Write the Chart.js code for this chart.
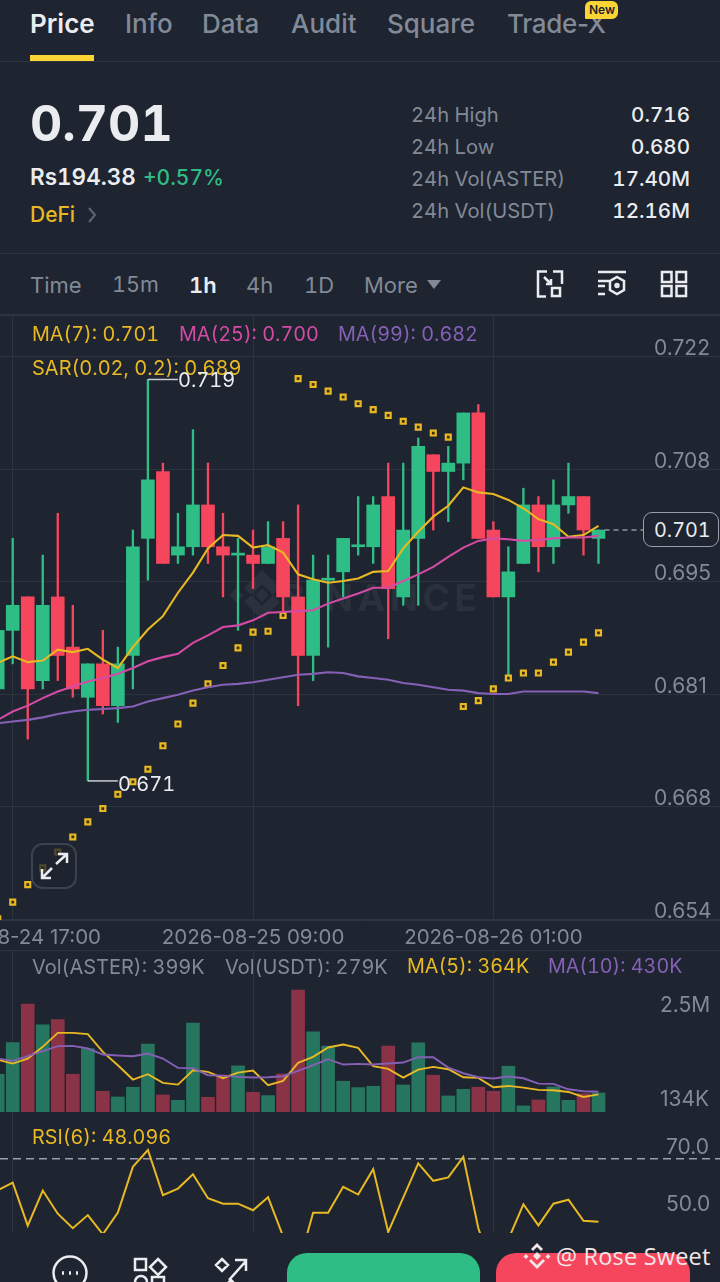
<!DOCTYPE html>
<html><head><meta charset="utf-8">
<script src="https://cdn.jsdelivr.net/npm/chart.js@4"></script>
<style>
html,body{margin:0;padding:0;background:#1e2430;}
#app{position:relative;width:720px;height:1282px;overflow:hidden;background:#1e2430;font-family:Inter,Roboto,sans-serif;font-variant-numeric:tabular-nums;}
.t{position:absolute;white-space:nowrap;line-height:1;transform:translateY(-50%);}
.r{transform:translate(-100%,-50%);}
.sep{position:absolute;left:0;width:720px;background:#2d333f;}
canvas{position:absolute;left:0;display:block;font-variant-numeric:normal;}
.g{color:#828a97}.w{color:#eaecef}.y{color:#e8b923}.p{color:#d44ba6}.v{color:#8560b5}
svg{position:absolute;overflow:visible;fill:none}
</style></head><body><div id="app">
<div class="t" style="left:281px;top:597px;font-size:37px;font-weight:700;letter-spacing:4.5px;color:#2a303c">BINANCE</div>
<svg style="left:0;top:0" width="720" height="720"><g fill="#2a303c"><path d="M262 570l18 18-7 7-11-11-11 11-7-7z"/><path d="M262 620l18-18-7-7-11 11-11-11-7 7z"/><path d="M262 588l7 7-7 7-7-7zM236 588l7 7-7 7-7-7zM288 588l7 7-7 7-7-7z"/></g></svg>

<canvas id="priceChart" width="720" height="635" style="top:316px"></canvas>
<canvas id="volChart" width="720" height="161" style="top:951px"></canvas>
<canvas id="rsiChart" width="720" height="121" style="top:1112px"></canvas>

<div class="t w" style="left:30px;top:24px;font-size:26px;font-weight:600">Price</div>
<div class="t g" style="left:125px;top:24px;font-size:26px;font-weight:500">Info</div>
<div class="t g" style="left:202px;top:24px;font-size:26px;font-weight:500">Data</div>
<div class="t g" style="left:291px;top:24px;font-size:26px;font-weight:500">Audit</div>
<div class="t g" style="left:387px;top:24px;font-size:26px;font-weight:500">Square</div>
<div class="t g" style="left:507px;top:24px;font-size:26px;font-weight:500;font-variant-numeric:normal;letter-spacing:-.3px">Trade-X</div>
<div style="position:absolute;left:585px;top:1px;width:33px;height:18px;border-radius:6px 6px 6px 1px;background:#fcd535"></div>
<div class="t" style="left:589px;top:10px;font-size:12px;font-weight:600;color:#1e2430">New</div>
<div style="position:absolute;left:30px;top:55px;width:64px;height:6px;background:#fcd535"></div>
<div class="sep" style="top:61px;height:1px"></div>

<div class="t w" style="left:30px;top:123px;font-size:50px;font-weight:700">0.701</div>
<div class="t w" style="left:30px;top:177px;font-size:22.5px;font-weight:600">Rs194.38</div>
<div class="t" style="left:143px;top:177px;font-size:21px;font-weight:500;color:#2ebd85">+0.57%</div>
<div class="t y" style="left:30px;top:214px;font-size:21px;font-weight:500">DeFi</div>
<svg style="left:87px;top:207px" width="10" height="16"><path d="M2 1l6 7-6 7" stroke="#5e6673" stroke-width="2"/></svg>
<div class="t g" style="left:411px;top:115px;font-size:20.2px">24h High</div>
<div class="t g" style="left:411px;top:147px;font-size:20.2px">24h Low</div>
<div class="t g" style="left:411px;top:179px;font-size:20.2px">24h Vol(ASTER)</div>
<div class="t g" style="left:411px;top:211px;font-size:20.2px">24h Vol(USDT)</div>
<div class="t r w" style="left:690px;top:115px;font-size:20.6px;font-weight:500">0.716</div>
<div class="t r w" style="left:690px;top:147px;font-size:20.6px;font-weight:500">0.680</div>
<div class="t r w" style="left:690px;top:179px;font-size:20.6px;font-weight:500">17.40M</div>
<div class="t r w" style="left:690px;top:211px;font-size:20.6px;font-weight:500">12.16M</div>
<div class="sep" style="top:253px;height:1px"></div>

<div class="t g" style="left:30px;top:285px;font-size:22px">Time</div>
<div class="t g" style="left:112px;top:285px;font-size:21.5px">15m</div>
<div class="t w" style="left:189px;top:285px;font-size:22px;font-weight:600">1h</div>
<div class="t g" style="left:246px;top:285px;font-size:22px">4h</div>
<div class="t g" style="left:304px;top:285px;font-size:22px">1D</div>
<div class="t g" style="left:364px;top:285px;font-size:22px">More</div>
<svg style="left:427px;top:280px" width="14" height="10"><path d="M0 0h14l-7 9z" fill="#828a97"/></svg>
<svg style="left:536px;top:270px" width="28" height="28" stroke="#eaecef" stroke-width="2.5"><path d="M11 1.5H2v25h8M17 1.500h9V14"/><path d="M8 7l7 7M15 9v5h-5"/><rect x="16" y="18" width="8" height="8"/></svg>
<svg style="left:597px;top:270px" width="30" height="28" stroke="#eaecef" stroke-width="2.5"><path d="M1 2h28M1 11h11M1 16h7M1 24h7"/><path d="M20 7l7 4v9l-7 4-7-4v-9z"/><circle cx="20" cy="15.5" r="1.5"/></svg>
<svg style="left:661px;top:271px" width="26" height="26" stroke="#eaecef" stroke-width="2.5"><rect x="1" y="1" width="9.5" height="10"/><rect x="15.5" y="1" width="9.5" height="10"/><rect x="1" y="15" width="9.5" height="10"/><rect x="15.5" y="15" width="9.5" height="10"/></svg>
<div class="sep" style="top:314px;height:2px"></div>

<div class="t y" style="left:32px;top:335px;font-size:19.8px">MA(7): 0.701</div>
<div class="t p" style="left:179px;top:335px;font-size:19.8px">MA(25): 0.700</div>
<div class="t v" style="left:338px;top:335px;font-size:19.8px">MA(99): 0.682</div>
<div class="t y" style="left:32px;top:368px;font-size:20px">SAR(0.02, 0.2): 0.689</div>
<div class="t w" style="left:178px;top:379.500px;font-size:20px">0.719</div>
<div class="t w" style="left:118px;top:784px;font-size:20px">0.671</div>

<div style="position:absolute;left:643px;top:511.500px;width:73.500px;height:33.500px;border:1.5px solid #9aa0aa;border-radius:9px;background:#1e2430"></div>
<div class="t w" style="left:654px;top:531px;font-size:19.8px">0.701</div>

<div style="position:absolute;left:31px;top:843px;width:42px;height:42px;border:2px solid #3c424e;border-radius:12px;background:rgba(30,36,48,.75)"></div>
<svg style="left:40px;top:852px" width="28" height="28" stroke="#eaecef" stroke-width="2.5"><path d="M16 12l11-10M18 2h9v9M12 16L2 26M2 17v9h9"/></svg>

<div class="sep" style="top:950px;height:1px"></div>
<div class="t g" style="left:32px;top:967px;font-size:20px">Vol(ASTER): 399K</div>
<div class="t g" style="left:225px;top:967px;font-size:20px">Vol(USDT): 279K</div>
<div class="t y" style="left:407px;top:967px;font-size:19.8px">MA(5): 364K</div>
<div class="t v" style="left:548px;top:967px;font-size:19.7px">MA(10): 430K</div>
<div class="t y" style="left:32px;top:1138px;font-size:19.8px">RSI(6): 48.096</div>

<div style="position:absolute;left:0;top:1233px;width:720px;height:49px;background:#1e2430"></div>
<svg style="left:50px;top:1255px" width="40" height="30" stroke="#eaecef" stroke-width="2.5"><circle cx="20" cy="18" r="16.5"/><path d="M12 18h2M19 18h2M26 18h2" stroke-width="3.5"/></svg>
<svg style="left:134px;top:1258px" width="34" height="28" stroke="#eaecef" stroke-width="2.5"><rect x="1" y="1" width="11" height="11"/><path d="M24 1l8 8-8 8-8-8z"/><circle cx="7" cy="24" r="6"/><rect x="18" y="19" width="12" height="12"/></svg>
<svg style="left:215px;top:1258px" width="34" height="28" stroke="#eaecef" stroke-width="2.5"><path d="M7 1l6 6-6 6-6-6zM14 22L31 3M20 2h11v11M20 26l-4-4-5 5"/></svg>
<div style="position:absolute;left:287px;top:1253px;width:193px;height:60px;border-radius:20px 20px 0 0;background:#2ebd85"></div>
<div style="position:absolute;left:496px;top:1253px;width:194px;height:60px;border-radius:20px 20px 0 0;background:#f6465d"></div>
<div class="t w" style="left:361px;top:1296px;font-size:28px;font-weight:600">Buy</div>
<div class="t w" style="left:570px;top:1296px;font-size:28px;font-weight:600">Sell</div>
<svg style="left:523px;top:1243px" width="30" height="30"><g fill="#f3e6e8"><path d="M14 0l6 6-2 2-4-4-4 4-2-2z"/><path d="M14 26l8-8-2-2-6 6-6-6-2 2z"/><path d="M14 9l4 4-4 4-4-4zM3 11l2.500 2.500L3 16l-2.500-2.500zM25 11l2.500 2.500L25 16l-2.500-2.500z"/></g></svg>
<div class="t" style="left:556px;top:1257px;font-size:23.5px;font-family:'Open Sans',sans-serif;color:#f3e6e8;letter-spacing:.2px">@ Rose Sweet</div>
</div>
<script>
const FONT='Inter';
const BG='#1e2430', GRID='#2d333f', TICK='#828a97';
const GREEN='#2ebd85', RED='#f6465d', VGREEN='#26755e', VRED='#8a3346';
const YELLOW='#e8b923', PINK='#d44ba6', PURPLE='#8560b5';

const xTickIndex=[1,17,33];
const xTickLabels=['2026-08-24 17:00','2026-08-25 09:00','2026-08-26 01:00'];

const open=[.682,.689,.693,.683,.693,.687,.681,.685,.680,.686,.700,.708,.698,.699,.704,.699,.698,.698,.697,.700,.693,.686,.695,.696,.699,.699,.705,.693,.700,.710,.708,.709,.715,.701,.693,.697,.704,.699,.704,.705,.700];
const close=[.689,.692,.682,.692,.686,.682,.685,.680,.685,.699,.707,.697,.699,.704,.699,.698,.698,.697,.699,.693,.686,.695,.695,.700,.699,.704,.694,.701,.711,.708,.709,.715,.700,.693,.696,.704,.699,.704,.705,.701,.701];
const high=[.692,.700,.693,.698,.703,.692,.685,.689,.687,.701,.719,.709,.703,.713,.709,.703,.700,.701,.702,.702,.704,.698,.698,.700,.705,.705,.709,.709,.712,.710,.711,.715,.716,.702,.699,.706,.705,.707,.709,.705,.701];
const low=[.680,.685,.676,.682,.683,.681,.671,.679,.678,.682,.695,.697,.697,.698,.697,.693,.689,.694,.697,.691,.680,.683,.687,.693,.698,.697,.688,.692,.692,.701,.702,.707,.700,.693,.683,.697,.696,.697,.703,.698,.697];
const ma7=[.6851,.6859,.6852,.6854,.6867,.6864,.6868,.6855,.6845,.6870,.6891,.6907,.6935,.6959,.6988,.7004,.7003,.6989,.6992,.6983,.6957,.6951,.6947,.6949,.6952,.6960,.6961,.6988,.7008,.7026,.7039,.7061,.7055,.7053,.7046,.7036,.7023,.7017,.7002,.7004,.7015];
const ma25=[.6783,.6793,.6800,.6809,.6817,.6823,.6829,.6833,.6838,.6845,.6853,.6858,.6862,.6875,.6884,.6894,.6896,.6902,.6911,.6912,.6913,.6914,.6922,.6928,.6934,.6941,.6941,.6949,.6957,.6966,.6978,.6989,.6997,.7000,.6999,.6997,.6998,.7000,.7001,.7001,.7003];
const ma99=[.6779,.6781,.6783,.6786,.6790,.6793,.6795,.6796,.6797,.6799,.6805,.6809,.6813,.6818,.6822,.6825,.6826,.6828,.6831,.6834,.6837,.6838,.6840,.6839,.6835,.6833,.6831,.6827,.6825,.6822,.6819,.6818,.6815,.6814,.6814,.6817,.6817,.6817,.6817,.6817,.6815];
const sar=[.6545,.6565,.6586,.6606,.6625,.6643,.6661,.6677,.6694,.6709,.6724,.6752,.6778,.6803,.6826,.6848,.6869,.6888,.6889,.6908,.7191,.7184,.7176,.7169,.7161,.7154,.7147,.7140,.7133,.7126,.7121,.6799,.6806,.6820,.6833,.6839,.6839,.6852,.6864,.6876,.6887];
const volume=[869,1666,2631,2111,2245,869,1515,441,298,542,1624,349,214,2153,290,844,1079,416,332,877,2983,1934,1574,693,533,567,1574,600,1658,844,324,491,542,441,1070,72,223,550,214,382,399];
const volMa5=[1238,1137,1263,1557,1909,1909,1876,1431,1095,735,869,651,609,970,928,768,911,961,592,701,1154,1305,1540,1616,1532,1070,1003,785,986,1054,995,793,777,542,575,533,475,466,424,298,364];
const volMa10=[1263,1205,1322,1448,1574,1582,1515,1364,1339,1322,1389,1263,1028,1020,844,835,802,785,793,819,953,1095,1247,1112,1129,1112,1137,1163,1297,1297,1037,894,793,760,810,768,634,626,491,441,430];
const rsi=[59.1,61.8,46.7,59.0,50.9,45.8,50.4,43.7,51.3,67.3,73.2,57.4,59.7,64.7,56.3,54.4,54.4,52.1,56.7,43.0,32.6,51.2,51.2,60.3,57.6,66.5,44.5,56.5,68.5,62.4,63.6,70.8,45.8,31.1,41.9,54.2,46.8,54.4,55.8,48.4,48.1];

const priceTicks=[.6544,.6679,.6813,.6948,.7082,.7217];
const volTicks=[134,2500];
const volTickLabels=['134K','2.5M'];
const rsiTicks=[50,70];
const lastPrice=.701;
const highCallout=[[10,.719],[12,.719]];
const lowCallout=[[6,.671],[8,.671]];
const priceLine=[[40.4,lastPrice],[43,lastPrice]];

const XMIN=.153, XMAX=48.09;
const line=(values,color,width)=>({type:'line',data:values.map((y,x)=>({x,y})),borderColor:color,borderWidth:width||2.1,pointRadius:0,tension:0,order:1});
const seg=(pts,color,width,dash)=>({type:'line',data:pts.map(p=>({x:p[0],y:p[1]})),borderColor:color,borderWidth:width,borderDash:dash||[],pointRadius:0,order:1});
const up=open.map((o,i)=>close[i]>=o);

function xScale(showLabels,h){return{
  type:'linear',min:XMIN,max:XMAX,offset:false,
  afterBuildTicks:s=>{s.ticks=xTickIndex.map(v=>({value:v}))},
  afterFit:s=>{s.paddingLeft=0;s.paddingRight=0;s.height=h},
  grid:{color:GRID,lineWidth:1,drawTicks:false,offset:false},
  border:{color:GRID,display:true},
  ticks:{display:showLabels,autoSkip:false,maxRotation:0,padding:6,color:TICK,font:{family:FONT,size:20.5},
    callback:v=>xTickLabels[xTickIndex.indexOf(v)]}
}}
function yScale(min,max,ticks,offset,fmt,grid,startX){return{
  type:'linear',position:'left',min,max,
  afterBuildTicks:s=>{s.ticks=ticks.map(v=>({value:v}))},
  afterFit:s=>{s.width=0;s.paddingTop=0;s.paddingBottom=0},
  grid,
  border:{display:false},
  ticks:{mirror:true,padding:startX,labelOffset:offset,autoSkip:false,color:TICK,font:{family:FONT,size:21},callback:fmt}
}}
const base={responsive:false,animation:false,devicePixelRatio:1,events:[],
  layout:{padding:0,autoPadding:false},plugins:{legend:{display:false},tooltip:{enabled:false}}};

new Chart(document.getElementById('priceChart'),{type:'bar',data:{datasets:[
  {data:low.map((l,x)=>({x,y:[l,high[x]]})),backgroundColor:up.map(u=>u?GREEN:RED),barThickness:1.7,grouped:false,order:4},
  {data:open.map((o,x)=>({x,y:[o,close[x]]})),backgroundColor:up.map(u=>u?GREEN:RED),barThickness:13,minBarLength:2,grouped:false,order:3},
  line(ma99,PURPLE),line(ma25,PINK),line(ma7,YELLOW),
  {type:'line',data:sar.map((y,x)=>({x,y})),showLine:false,pointStyle:'rect',pointRadius:3.5,pointBorderWidth:2.2,pointBorderColor:YELLOW,pointBackgroundColor:'#3a2f14',order:2},
  seg(highCallout,'#c9ccd2',1.5),seg(lowCallout,'#c9ccd2',1.5),
  seg(priceLine,'#8f95a0',1.5,[5,4])
]},options:{...base,scales:{
  x:xScale(true,31),
  y:yScale(.65437,.72659,priceTicks,-8.5,v=>v.toFixed(3),{color:GRID,drawTicks:false},654)
}}});

new Chart(document.getElementById('volChart'),{type:'bar',data:{datasets:[
  {data:volume.map((y,x)=>({x,y})),base:-80,backgroundColor:up.map(u=>u?VGREEN:VRED),barThickness:13,grouped:false,order:3},
  line(volMa10,PURPLE,1.9),line(volMa5,YELLOW,1.9)
]},options:{...base,scales:{
  x:xScale(false,0),
  y:yScale(-80,3965,volTicks,-3.7,v=>volTickLabels[volTicks.indexOf(v)],{display:false},660)
}}});

new Chart(document.getElementById('rsiChart'),{type:'line',data:{datasets:[
  line(rsi,YELLOW,2)
]},options:{...base,scales:{
  x:{...xScale(false,0),border:{display:false}},
  y:{...yScale(44.14,86.5,rsiTicks,-11.5,v=>v.toFixed(1),{color:c=>c.tick&&c.tick.value===70?'#9aa0a9':'transparent',lineWidth:1.5,drawTicks:false},666),border:{display:false,dash:[8,5]}}
}}});
</script></body></html>
